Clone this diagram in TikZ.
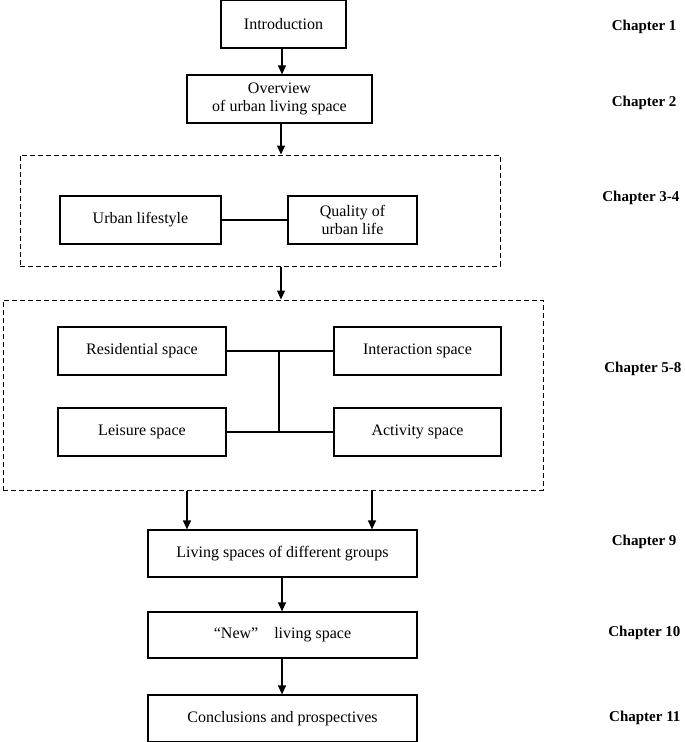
\documentclass[tikz,border=0pt]{standalone}
\usepackage{fontspec}
\setmainfont{Liberation Serif}
\usetikzlibrary{arrows.meta}
\begin{document}
\begin{tikzpicture}[x=1pt,y=-1pt,
  box/.style={draw,line width=1.2pt,inner sep=0pt,font=\fontsize{16}{18}\selectfont,align=center},
  dbox/.style={draw,dash pattern=on 5pt off 3pt,line width=1pt,inner sep=0pt},
  arr/.style={-{Triangle[length=9pt,width=8pt]},line width=1.2pt},
  ln/.style={line width=1.2pt},
  chap/.style={font=\bfseries\fontsize{15}{17}\selectfont,anchor=east}]
\useasboundingbox (0,0) rectangle (685,742);
\node[box,minimum width=125pt,minimum height=48pt] (intro) at (283.5,24) {Introduction};
\node[box,minimum width=185pt,minimum height=48pt] (over) at (279.5,99) {Overview\\of urban living space};
\node[dbox,minimum width=480pt,minimum height=111pt] (d1) at (260,210.5) {};
\node[box,minimum width=161pt,minimum height=48pt] (ul) at (140.5,220) {Urban lifestyle};
\node[box,minimum width=129pt,minimum height=48pt] (ql) at (352.5,220) {Quality of\\urban life};
\node[dbox,minimum width=540pt,minimum height=190pt] (d2) at (273,395) {};
\node[box,minimum width=168pt,minimum height=48pt] (res) at (142,351) {Residential space};
\node[box,minimum width=167pt,minimum height=48pt] (int) at (417.5,351) {Interaction space};
\node[box,minimum width=168pt,minimum height=48pt] (lei) at (142,432) {Leisure space};
\node[box,minimum width=167pt,minimum height=48pt] (act) at (417.5,432) {Activity space};
\node[box,minimum width=269pt,minimum height=47pt] (liv) at (282.5,553.5) {Living spaces of different groups};
\node[box,minimum width=269pt,minimum height=46pt] (new) at (282.5,635) {“New”\quad living space};
\node[box,minimum width=269pt,minimum height=47pt] (con) at (282.5,718.5) {Conclusions and prospectives};
\coordinate (jt) at (279,351);
\coordinate (jb) at (279,432);
\draw[arr] (intro.south -| 282,0) -- (over.north -| 282,0);
\draw[arr] (over.south -| 281,0) -- (d1.north -| 281,0);
\draw[ln] (ul) -- (ql);
\draw[arr] (d1.south -| 281,0) -- (d2.north -| 281,0);
\draw[ln] (res) -- (int);
\draw[ln] (lei) -- (act);
\draw[ln] (jt) -- (jb);
\draw[arr] (d2.south -| 187,0) -- (liv.north -| 187,0);
\draw[arr] (d2.south -| 372,0) -- (liv.north -| 372,0);
\draw[arr] (liv.south -| 282,0) -- (new.north -| 282,0);
\draw[arr] (new.south -| 282,0) -- (con.north -| 282,0);
\node[chap] (c1) at (680,27) {Chapter 1};
\node[chap] (c2) at (680,103) {Chapter 2};
\node[chap] (c3) at (683,198) {Chapter 3-4};
\node[chap] (c5) at (685,369) {Chapter 5-8};
\node[chap] (c9) at (680,542) {Chapter 9};
\node[chap] (c10) at (684,633) {Chapter 10};
\node[chap] (c11) at (684,718) {Chapter 11};
\end{tikzpicture}
\end{document}
